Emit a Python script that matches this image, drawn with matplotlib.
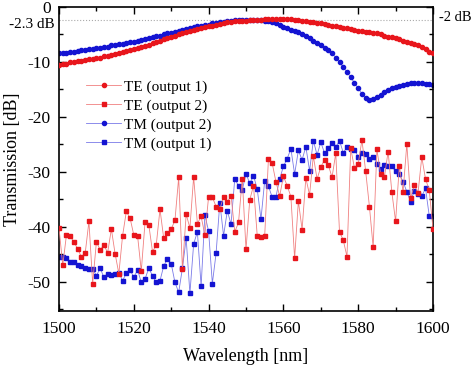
import numpy as np
import matplotlib
matplotlib.use("Agg")
import matplotlib.pyplot as plt
from matplotlib.ticker import MultipleLocator

plt.rcParams['font.family'] = ['Liberation Serif', 'DejaVu Serif']
plt.rcParams['axes.unicode_minus'] = False

wavelength = list(range(1500, 1601))

te_out1 = [-10.5, -10.4, -10.3, -10.1, -10.0, -9.9, -9.8, -9.7, -9.5, -9.4,
           -9.3, -9.2, -9.0, -8.9, -8.7, -8.6, -8.4, -8.2, -8.0, -7.9,
           -7.7, -7.5, -7.3, -7.1, -6.9, -6.6, -6.4, -6.1, -5.9, -5.6,
           -5.4, -5.2, -5.0, -4.8, -4.6, -4.4, -4.2, -4.0, -3.8, -3.7,
           -3.5, -3.4, -3.2, -3.1, -3.0, -2.8, -2.7, -2.6, -2.6, -2.5,
           -2.5, -2.4, -2.4, -2.3, -2.3, -2.2, -2.2, -2.1, -2.1, -2.1,
           -2.1, -2.2, -2.2, -2.3, -2.4, -2.5, -2.6, -2.7, -2.8, -2.9,
           -3.0, -3.1, -3.2, -3.4, -3.5, -3.6, -3.8, -3.9, -4.0, -4.2,
           -4.3, -4.4, -4.5, -4.6, -4.7, -4.8, -5.0, -5.2, -5.4, -5.5,
           -5.7, -5.9, -6.1, -6.3, -6.5, -6.7, -7.0, -7.3, -7.7, -8.1,
           -8.4]

tm_out2 = [-8.4, -8.4, -8.3, -8.2, -8.1, -8.0, -7.9, -7.8, -7.7, -7.6,
           -7.5, -7.4, -7.3, -7.2, -7.0, -6.9, -6.8, -6.7, -6.5, -6.4,
           -6.3, -6.1, -6.0, -5.8, -5.7, -5.5, -5.3, -5.2, -5.0, -4.8,
           -4.7, -4.5, -4.3, -4.2, -4.0, -3.8, -3.7, -3.5, -3.4, -3.3,
           -3.2, -3.0, -2.9, -2.8, -2.7, -2.6, -2.5, -2.4, -2.4, -2.3,
           -2.3, -2.3, -2.3, -2.4, -2.4, -2.5, -2.6, -2.8, -3.0, -3.3,
           -3.6, -3.8, -4.1, -4.3, -4.6, -4.9, -5.3, -5.7, -6.1, -6.5,
           -6.9, -7.4, -7.9, -8.4, -9.2, -10.0, -11.0, -11.8, -12.8, -13.8,
           -14.8, -15.8, -16.5, -16.9, -16.8, -16.4, -16.0, -15.5, -15.1, -14.8,
           -14.5, -14.3, -14.2, -14.1, -13.9, -13.8, -13.8, -13.9, -14.0, -14.1,
           -14.2]

te_out2 = [-40.2, -47.0, -41.4, -41.7, -42.8, -44.0, -45.5, -44.8, -39.0, -50.3,
           -42.7, -44.2, -43.3, -44.7, -40.4, -44.9, -48.5, -41.6, -37.2, -38.4,
           -41.5, -41.6, -48.0, -39.2, -39.6, -44.5, -43.3, -36.8, -42.1, -41.2,
           -40.4, -38.8, -31.0, -47.7, -37.7, -40.2, -30.9, -39.4, -38.1, -41.5,
           -34.5, -34.6, -36.3, -36.8, -34.5, -35.5, -34.3, -40.9, -39.2, -31.2,
           -44.1, -35.1, -32.5, -41.6, -41.9, -41.6, -27.6, -28.4, -31.8, -34.4,
           -30.8, -32.5, -34.5, -45.7, -35.3, -40.5, -31.1, -34.2, -27.1, -31.3,
           -29.1, -27.8, -28.7, -31.0, -26.6, -40.9, -42.4, -45.4, -25.7, -29.3,
           -28.5, -24.2, -29.9, -36.3, -43.7, -25.9, -30.4, -31.0, -26.3, -33.7,
           -39.0, -28.9, -33.6, -24.9, -34.8, -32.4, -33.8, -27.3, -31.3, -33.3,
           -40.4]

tm_out1 = [-45.4, -45.5, -45.7, -46.4, -46.3, -46.9, -47.2, -47.5, -47.6, -47.6,
           -48.9, -47.5, -49.2, -48.5, -48.7, -48.5, -48.3, -49.8, -48.4, -47.8,
           -49.2, -47.8, -50.1, -49.5, -47.5, -48.9, -50.1, -49.8, -47.1, -45.8,
           -46.7, -50.1, -51.9, -47.5, -42.1, -52.1, -43.1, -40.9, -50.8, -37.8,
           -40.8, -50.3, -44.8, -35.6, -41.6, -37.1, -39.5, -31.2, -32.6, -33.3,
           -30.3, -32.1, -30.7, -33.1, -38.6, -31.6, -32.6, -34.6, -34.5, -31.3,
           -29.0, -27.6, -25.8, -30.4, -26.1, -27.8, -25.4, -29.8, -24.3, -26.9,
           -24.6, -26.6, -25.7, -24.8, -25.5, -24.3, -26.5, -25.5, -25.9, -26.0,
           -27.2, -26.6, -26.7, -27.7, -27.2, -28.5, -29.5, -28.7, -29.0, -29.0,
           -29.9, -30.4, -31.8, -33.6, -35.4, -33.4, -34.0, -34.4, -33.0, -38.0,
           -38.1]

xticks = [1500, 1520, 1540, 1560, 1580, 1600]
yticks = [0, -10, -20, -30, -40, -50]

RED = '#e8161c'
BLUE = '#1414d2'
RED_L = '#f08080'
BLUE_L = '#7a7ae8'

fig = plt.figure(figsize=(4.74, 3.67), dpi=100)
ax = fig.add_axes([0.1245, 0.1526, 0.789, 0.8284])

ax.axhline(-2.3, color='#aaaaaa', linestyle=':', linewidth=0.8, zorder=1)

l1, = ax.plot(wavelength, te_out1, color=RED_L, linewidth=0.6, marker='o',
              markersize=3.0, markerfacecolor=RED, markeredgecolor=RED,
              label='TE (output 1)', zorder=3)
l2, = ax.plot(wavelength, te_out2, color=RED_L, linewidth=0.6, marker='s',
              markersize=2.8, markerfacecolor=RED, markeredgecolor=RED,
              label='TE (output 2)', zorder=3)
l3, = ax.plot(wavelength, tm_out2, color=BLUE_L, linewidth=0.6, marker='o',
              markersize=3.0, markerfacecolor=BLUE, markeredgecolor=BLUE,
              label='TM (output 2)', zorder=2)
l4, = ax.plot(wavelength, tm_out1, color=BLUE_L, linewidth=0.6, marker='s',
              markersize=2.8, markerfacecolor=BLUE, markeredgecolor=BLUE,
              label='TM (output 1)', zorder=2)

ax.set_xlim(1500, 1600)
ax.set_ylim(-55.3, 0)
ax.set_xticks(xticks)
ax.set_yticks(yticks)
ax.set_yticklabels([str(v) for v in yticks])
ax.xaxis.set_minor_locator(MultipleLocator(10))
ax.yaxis.set_minor_locator(MultipleLocator(5))
ax.tick_params(which='both', direction='in', top=True, right=True,
               labelsize=12.5, width=1.0)
ax.tick_params(axis='x', which='major', length=5, pad=7)
ax.tick_params(axis='y', which='major', length=5, pad=6)
ax.tick_params(which='minor', length=3)
for s in ax.spines.values():
    s.set_linewidth(1.2)

ax.set_xlabel('Wavelength [nm]', fontsize=13, labelpad=8)
ax.set_ylabel('Transmission [dB]', fontsize=13, labelpad=5)

ax.text(-0.012, -3.15, '-2.3 dB', transform=ax.get_yaxis_transform(),
        ha='right', va='center', fontsize=11)
ax.text(1.017, -2.0, '-2 dB', transform=ax.get_yaxis_transform(),
        ha='left', va='center', fontsize=10.5)

ax.legend(handles=[l1, l2, l3, l4], loc='upper left',
          bbox_to_anchor=(0.072, 0.76), frameon=False, fontsize=11,
          handlelength=2.3, handletextpad=0.2, labelspacing=0.33,
          numpoints=1, borderaxespad=0, borderpad=0)

fig.savefig('out.png', dpi=100)
